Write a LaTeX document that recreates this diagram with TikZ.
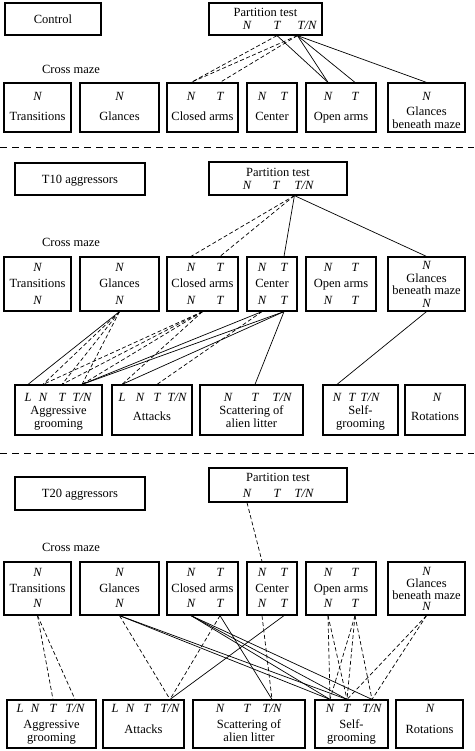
\documentclass[tikz,border=0pt]{standalone}
\usepackage{fontspec}
\setmainfont{Liberation Serif}

\tikzset{
  box/.style={draw,line width=1.2pt,inner sep=0pt},
  txt/.style={inner sep=0pt,text height=8.3pt,text depth=0pt,font=\fontsize{12.5}{13}\selectfont},
  var/.style={txt,font=\fontsize{12.5}{13}\selectfont\itshape},
  sl/.style={line width=0.7pt},
  dl/.style={line width=0.7pt,dash pattern=on 4pt off 2.5pt},
  sep/.style={line width=0.9pt,dash pattern=on 7pt off 5pt}
}

\begin{document}
\begin{tikzpicture}[x=1pt,y=-1pt]
\useasboundingbox (0,0) rectangle (474,751);

% ---- Control ----
\node (ctl) at (53,19) [box,txt,minimum width=96pt,minimum height=32pt] {Control};
\node (p1) at (265.5,19) [box,minimum width=113pt,minimum height=32pt] {};
\node (p1a) at (265.5,12) [txt] {Partition test};
\node (p1N) at (247,25.5) [var] {N};
\node (p1T) at (277,25.5) [var] {T};
\node (p1TN) at (307,25.5) [var] {T/N};
\node (cm1) at (71,69) [txt] {Cross maze};

\node (tr1) at (37.5,107.5) [box,minimum width=67pt,minimum height=49pt] {};
\node (tr1N) at (37.5,96) [var] {N};
\node (tr1a) at (37.5,116) [txt] {Transitions};
\node (gl1) at (119.5,107.5) [box,minimum width=79pt,minimum height=49pt] {};
\node (gl1N) at (119.5,96) [var] {N};
\node (gl1a) at (119.5,116) [txt] {Glances};
\node (ca1) at (202.5,107.5) [box,minimum width=71pt,minimum height=49pt] {};
\node (ca1N) at (191,96) [var] {N};
\node (ca1T) at (220,96) [var] {T};
\node (ca1a) at (202.5,116) [txt] {Closed arms};
\node (ce1) at (272,107.5) [box,minimum width=50pt,minimum height=49pt] {};
\node (ce1N) at (262,96) [var] {N};
\node (ce1T) at (284,96) [var] {T};
\node (ce1a) at (272,116) [txt] {Center};
\node (oa1) at (341,107.5) [box,minimum width=70pt,minimum height=49pt] {};
\node (oa1N) at (328,96) [var] {N};
\node (oa1T) at (355,96) [var] {T};
\node (oa1a) at (341,116) [txt] {Open arms};
\node (gb1) at (426.5,107.5) [box,minimum width=77pt,minimum height=49pt] {};
\node (gb1N) at (426.5,96) [var] {N};
\node (gb1a) at (426.5,111) [txt] {Glances};
\node (gb1b) at (426.5,124) [txt] {beneath maze};

\draw[dl] (p1.south -| p1T) -- (ca1.north -| ca1N);
\draw[dl] (p1.south -| p1TN.west) -- (ca1.north -| ca1N);
\draw[dl] (p1.south -| p1TN.west) -- (ca1.north -| ca1T);
\draw[sl] (p1.south -| p1T) -- (oa1.north -| oa1N);
\draw[sl] (p1.south -| p1TN.west) -- (oa1.north -| oa1N);
\draw[sl] (p1.south -| p1TN.west) -- (oa1.north -| oa1T);
\draw[sl] (p1.south -| p1TN.west) -- (gb1.north -| gb1N);

\draw[sep] (0,147) -- (474,147);

% ---- T10 ----
\node (t10) at (80,179) [box,txt,minimum width=130pt,minimum height=32pt] {T10 aggressors};
\node (p2) at (278,178.5) [box,minimum width=138pt,minimum height=33pt] {};
\node (p2a) at (278,172) [txt] {Partition test};
\node (p2N) at (247,185) [var] {N};
\node (p2T) at (276,185) [var] {T};
\node (p2TN) at (304,185) [var] {T/N};
\node (cm2) at (71,242) [txt] {Cross maze};

\node (tr2) at (37.5,284) [box,minimum width=67pt,minimum height=54pt] {};
\node (tr2N) at (37.5,267) [var] {N};
\node (tr2a) at (37.5,283) [txt] {Transitions};
\node (tr2n) at (37.5,300) [var] {N};
\node (gl2) at (119.5,284) [box,minimum width=79pt,minimum height=54pt] {};
\node (gl2N) at (119.5,267) [var] {N};
\node (gl2a) at (119.5,283) [txt] {Glances};
\node (gl2n) at (119.5,300) [var] {N};
\node (ca2) at (202.5,284) [box,minimum width=71pt,minimum height=54pt] {};
\node (ca2N) at (191,267) [var] {N};
\node (ca2T) at (220,267) [var] {T};
\node (ca2a) at (202.5,283) [txt] {Closed arms};
\node (ca2n) at (191,300) [var] {N};
\node (ca2t) at (220,300) [var] {T};
\node (ce2) at (272,284) [box,minimum width=50pt,minimum height=54pt] {};
\node (ce2N) at (262,267) [var] {N};
\node (ce2T) at (284,267) [var] {T};
\node (ce2a) at (272,283) [txt] {Center};
\node (ce2n) at (262,300) [var] {N};
\node (ce2t) at (284,300) [var] {T};
\node (oa2) at (341,284) [box,minimum width=70pt,minimum height=54pt] {};
\node (oa2N) at (328,267) [var] {N};
\node (oa2T) at (355,267) [var] {T};
\node (oa2a) at (341,283) [txt] {Open arms};
\node (oa2n) at (328,300) [var] {N};
\node (oa2t) at (355,300) [var] {T};
\node (gb2) at (426.5,284) [box,minimum width=77pt,minimum height=54pt] {};
\node (gb2N) at (426.5,265) [var] {N};
\node (gb2a) at (426.5,278) [txt] {Glances};
\node (gb2b) at (426.5,290) [txt] {beneath maze};
\node (gb2n) at (426.5,303) [var] {N};

\node (ag2) at (58.5,410) [box,minimum width=87pt,minimum height=50pt] {};
\node (ag2L) at (28,397) [var] {L};
\node (ag2N) at (43,397) [var] {N};
\node (ag2T) at (62,397) [var] {T};
\node (ag2TN) at (82,397) [var] {T/N};
\node (ag2a) at (58.5,410) [txt] {Aggressive};
\node (ag2b) at (58.5,423) [txt] {grooming};
\node (at2) at (152,410) [box,minimum width=80pt,minimum height=50pt] {};
\node (at2L) at (122,397) [var] {L};
\node (at2N) at (140,397) [var] {N};
\node (at2T) at (157,397) [var] {T};
\node (at2TN) at (177,397) [var] {T/N};
\node (at2a) at (152,416) [txt] {Attacks};
\node (sc2) at (251.5,410) [box,minimum width=103pt,minimum height=50pt] {};
\node (sc2N) at (228,397) [var] {N};
\node (sc2T) at (255,397) [var] {T};
\node (sc2TN) at (282,397) [var] {T/N};
\node (sc2a) at (251.5,410) [txt] {Scattering of};
\node (sc2b) at (251.5,423) [txt] {alien litter};
\node (sg2) at (360.5,410) [box,minimum width=75pt,minimum height=50pt] {};
\node (sg2N) at (337,397) [var] {N};
\node (sg2T) at (352,397) [var] {T};
\node (sg2TN) at (370,397) [var] {T/N};
\node (sg2a) at (360.5,410) [txt] {Self-};
\node (sg2b) at (360.5,423) [txt] {grooming};
\node (ro2) at (435,410) [box,minimum width=60pt,minimum height=50pt] {};
\node (ro2N) at (437,397) [var] {N};
\node (ro2a) at (435,416) [txt] {Rotations};

\draw[dl] (p2.south -| p2TN.west) -- (ca2.north -| ca2N);
\draw[dl] (p2.south -| p2TN.west) -- (ca2.north -| ca2T);
\draw[sl] (p2.south -| p2TN.west) -- (ce2.north -| ce2T);
\draw[sl] (p2.south -| p2TN.west) -- (gb2.north -| gb2N);

\draw[sl] (gl2.south -| gl2n) -- (ag2.north -| ag2L);
\draw[dl] (gl2.south -| gl2n) -- (ag2.north -| ag2N);
\draw[dl] (gl2.south -| gl2n) -- (ag2.north -| ag2T);
\draw[dl] (gl2.south -| gl2n) -- (ag2.north -| ag2TN);
\draw[dl] (ca2.south) -- (ag2.north -| ag2N);
\draw[dl] (ca2.south) -- (ag2.north -| ag2T);
\draw[dl] (ca2.south) -- (ag2.north -| ag2TN);
\draw[dl] (ca2.south) -- (at2.north -| at2L);
\draw[dl] (ce2.south -| ce2n) -- (at2.north -| at2T);
\draw[sl] (ce2.south -| ce2n) -- (ag2.north -| ag2TN);
\draw[sl] (ce2.south -| ce2t) -- (ag2.north -| ag2TN);
\draw[sl] (ce2.south -| ce2t) -- (at2.north -| at2L);
\draw[sl] (ce2.south -| ce2t) -- (sc2.north -| sc2T);
\draw[sl] (gb2.south -| gb2n) -- (sg2.north -| sg2N);

\draw[sep] (0,453) -- (474,453);

% ---- T20 ----
\node (t20) at (80,493.5) [box,txt,minimum width=130pt,minimum height=33pt] {T20 aggressors};
\node (p3) at (278,485) [box,minimum width=138pt,minimum height=34pt] {};
\node (p3a) at (278,477) [txt] {Partition test};
\node (p3N) at (247,493) [var] {N};
\node (p3T) at (277,493) [var] {T};
\node (p3TN) at (304,493) [var] {T/N};
\node (cm3) at (71,547) [txt] {Cross maze};

\node (tr3) at (37.5,588.5) [box,minimum width=67pt,minimum height=53pt] {};
\node (tr3N) at (37.5,572) [var] {N};
\node (tr3a) at (37.5,588) [txt] {Transitions};
\node (tr3n) at (37.5,603) [var] {N};
\node (gl3) at (119.5,588.5) [box,minimum width=79pt,minimum height=53pt] {};
\node (gl3N) at (119.5,572) [var] {N};
\node (gl3a) at (119.5,588) [txt] {Glances};
\node (gl3n) at (119.5,603) [var] {N};
\node (ca3) at (202.5,588.5) [box,minimum width=71pt,minimum height=53pt] {};
\node (ca3N) at (191,572) [var] {N};
\node (ca3T) at (220,572) [var] {T};
\node (ca3a) at (202.5,588) [txt] {Closed arms};
\node (ca3n) at (191,603) [var] {N};
\node (ca3t) at (220,603) [var] {T};
\node (ce3) at (272,588.5) [box,minimum width=50pt,minimum height=53pt] {};
\node (ce3N) at (262,572) [var] {N};
\node (ce3T) at (284,572) [var] {T};
\node (ce3a) at (272,588) [txt] {Center};
\node (ce3n) at (262,603) [var] {N};
\node (ce3t) at (284,603) [var] {T};
\node (oa3) at (341,588.5) [box,minimum width=70pt,minimum height=53pt] {};
\node (oa3N) at (328,572) [var] {N};
\node (oa3T) at (355,572) [var] {T};
\node (oa3a) at (341,588) [txt] {Open arms};
\node (oa3n) at (328,603) [var] {N};
\node (oa3t) at (355,603) [var] {T};
\node (gb3) at (426.5,588.5) [box,minimum width=77pt,minimum height=53pt] {};
\node (gb3N) at (426.5,571) [var] {N};
\node (gb3a) at (426.5,583) [txt] {Glances};
\node (gb3b) at (426.5,595) [txt] {beneath maze};
\node (gb3n) at (426.5,606) [var] {N};

\node (ag3) at (51.5,724) [box,minimum width=89pt,minimum height=48pt] {};
\node (ag3L) at (20,708) [var] {L};
\node (ag3N) at (35,708) [var] {N};
\node (ag3T) at (53,708) [var] {T};
\node (ag3TN) at (75,708) [var] {T/N};
\node (ag3a) at (51.5,724) [txt] {Aggressive};
\node (ag3b) at (51.5,737) [txt] {grooming};
\node (at3) at (143.5,724) [box,minimum width=81pt,minimum height=48pt] {};
\node (at3L) at (115,708) [var] {L};
\node (at3N) at (130,708) [var] {N};
\node (at3T) at (147,708) [var] {T};
\node (at3TN) at (170,708) [var] {T/N};
\node (at3a) at (143.5,729) [txt] {Attacks};
\node (sc3) at (249,724) [box,minimum width=112pt,minimum height=48pt] {};
\node (sc3N) at (220,708) [var] {N};
\node (sc3T) at (247,708) [var] {T};
\node (sc3TN) at (272,708) [var] {T/N};
\node (sc3a) at (249,724) [txt] {Scattering of};
\node (sc3b) at (249,737) [txt] {alien litter};
\node (sg3) at (351.5,724) [box,minimum width=73pt,minimum height=48pt] {};
\node (sg3N) at (330,708) [var] {N};
\node (sg3T) at (347,708) [var] {T};
\node (sg3TN) at (372,708) [var] {T/N};
\node (sg3a) at (351.5,724) [txt] {Self-};
\node (sg3b) at (351.5,737) [txt] {grooming};
\node (ro3) at (429.5,724) [box,minimum width=67pt,minimum height=48pt] {};
\node (ro3N) at (430,708) [var] {N};
\node (ro3a) at (429.5,729) [txt] {Rotations};

\draw[dl] (p3.south -| p3N) -- (ce3.north -| ce3N);

\draw[dl] (tr3.south -| tr3n) -- (ag3.north -| ag3T);
\draw[dl] (tr3.south -| tr3n) -- (ag3.north -| ag3TN);
\draw[dl] (gl3.south -| gl3n) -- (at3.north -| at3TN);
\draw[sl] (gl3.south -| gl3n) -- (sg3.north -| sg3N);
\draw[sl] (gl3.south -| gl3n) -- (sg3.north -| sg3T);
\draw[sl] (ca3.south -| ca3n) -- (sg3.north -| sg3N);
\draw[sl] (ca3.south -| ca3n) -- (sg3.north -| sg3T);
\draw[sl] (ca3.south -| ca3n) -- (sg3.north -| sg3TN);
\draw[sl] (ca3.south -| ca3t) -- (sc3.north -| sc3TN);
\draw[dl] (ca3.south -| ca3t) -- (at3.north -| at3TN);
\draw[sl] (ce3.south -| ce3t) -- (at3.north -| at3TN);
\draw[dl] (ce3.south -| ce3n) -- (sc3.north -| sc3TN);
\draw[dl] (oa3.south -| oa3n) -- (sg3.north -| sg3N);
\draw[dl] (oa3.south -| oa3n) -- (sg3.north -| sg3T);
\draw[dl] (oa3.south -| oa3t) -- (sg3.north -| sg3N);
\draw[dl] (oa3.south -| oa3t) -- (sg3.north -| sg3T);
\draw[dl] (oa3.south -| oa3t) -- (sg3.north -| sg3TN);
\draw[dl] (gb3.south -| gb3n) -- (sg3.north -| sg3T);
\draw[dl] (gb3.south -| gb3n) -- (sg3.north -| sg3TN);

\end{tikzpicture}
\end{document}
